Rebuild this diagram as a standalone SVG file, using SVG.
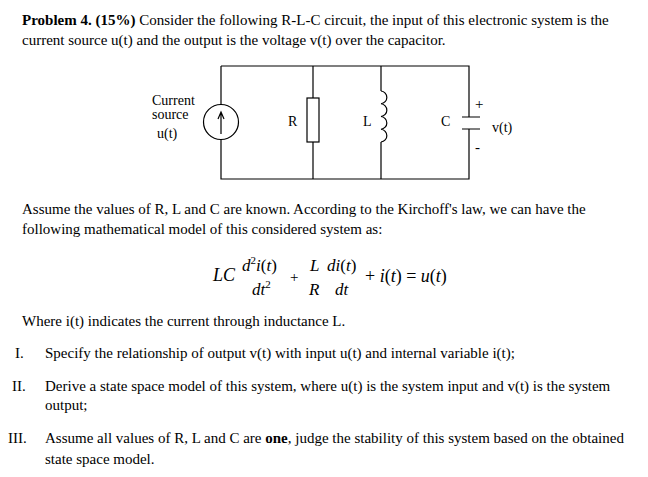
<svg xmlns="http://www.w3.org/2000/svg" width="648" height="477" viewBox="0 0 648 477">
<style>
text{font-family:"Liberation Serif",serif;font-size:15px;fill:#000}
.w{stroke:#000;stroke-width:1.2;fill:none}
.m{font-style:italic;font-size:18px}
.f{font-style:italic;font-size:17px}
.s{font-size:14px}
</style>
<rect width="648" height="477" fill="#fff"/>
<text x="22" y="25"><tspan font-weight="bold">Problem 4. (15%)</tspan> Consider the following R-L-C circuit, the input of this electronic system is the</text>
<text x="22" y="45">current source u(t) and the output is the voltage v(t) over the capacitor.</text>
<g id="connectors">
<path class="w" d="M221,66 H469 V117 M469,129 V179 H221 V140 M221,104 V66 M313,66 V98 M313,142 V179 M381,66 V91 M381,142 V179"/>
</g>
<g id="source"><circle class="w" cx="221" cy="122" r="17.5"/><path class="w" d="M221,134 V112 M218,119 L221,112 L224,119"/>
<text class="s" x="152" y="105">Current</text><text class="s" x="152" y="119">source</text><text class="s" x="157" y="138">u(t)</text></g>
<g id="R"><rect class="w" x="307" y="98" width="12" height="44"/><text class="s" x="288" y="126">R</text></g>
<g id="L"><path class="w" d="M381,91 a6.4,6.4 0 0 1 0,12.75 a6.4,6.4 0 0 1 0,12.75 a6.4,6.4 0 0 1 0,12.75 a6.4,6.4 0 0 1 0,12.75"/><text class="s" x="363" y="126">L</text></g>
<g id="C"><path class="w" d="M462,117 H480 M462,129 H480"/><text class="s" x="441" y="126">C</text><text x="475" y="109" font-size="12">+</text><text x="475" y="152" font-size="12">-</text><text class="s" x="492" y="132">v(t)</text></g>
<text x="22" y="214">Assume the values of R, L and C are known. According to the Kirchoff's law, we can have the</text>
<text x="22" y="234">following mathematical model of this considered system as:</text>
<g id="eq">
<text class="m" x="213" y="281">LC</text>
<text class="f" x="242" y="271">d<tspan font-size="11" dy="-7" font-style="normal">2</tspan><tspan dy="7">i</tspan><tspan font-style="normal">(</tspan>t<tspan font-style="normal">)</tspan></text>
<text class="f" x="252" y="295">dt<tspan font-size="11" dy="-7" font-style="normal">2</tspan></text>
<text x="290" y="282" font-size="18">+</text>
<text class="f" x="310" y="271">L</text>
<text class="f" x="309" y="295">R</text>
<text class="f" x="327" y="271">di<tspan font-style="normal">(</tspan>t<tspan font-style="normal">)</tspan></text>
<text class="f" x="335" y="295">dt</text>
<text class="m" x="365" y="282"><tspan font-style="normal">+ </tspan>i<tspan font-style="normal">(</tspan>t<tspan font-style="normal">) = </tspan>u<tspan font-style="normal">(</tspan>t<tspan font-style="normal">)</tspan></text>
</g>
<text x="22" y="326">Where i(t) indicates the current through inductance L.</text>
<text x="15" y="358">I.</text><text x="45" y="358">Specify the relationship of output v(t) with input u(t) and internal variable i(t);</text>
<text x="12" y="391">II.</text><text x="45" y="391">Derive a state space model of this system, where u(t) is the system input and v(t) is the system</text>
<text x="45" y="410">output;</text>
<text x="8" y="443">III.</text><text x="45" y="443">Assume all values of R, L and C are <tspan font-weight="bold">one</tspan>, judge the stability of this system based on the obtained</text>
<text x="45" y="464">state space model.</text>
</svg>
